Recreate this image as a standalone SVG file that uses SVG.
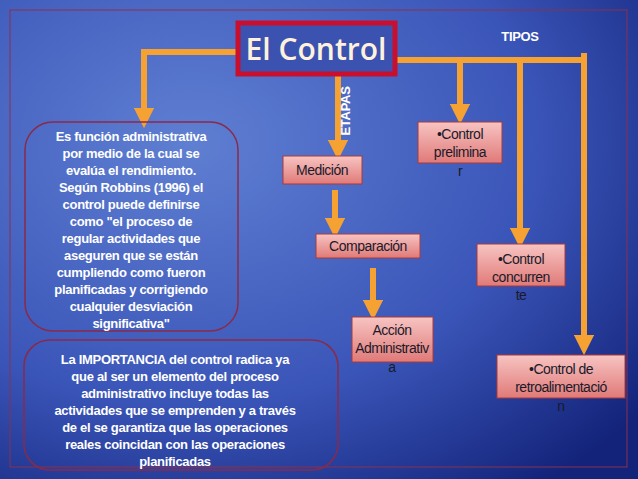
<svg xmlns="http://www.w3.org/2000/svg" width="638" height="479" viewBox="0 0 638 479">
<defs>
<radialGradient id="bg" cx="0.3" cy="0.3" r="0.9">
<stop offset="0" stop-color="#5f7fd2"/><stop offset="0.6" stop-color="#3a55b8"/><stop offset="1" stop-color="#13237a"/>
</radialGradient>
<linearGradient id="box" x1="0" y1="0" x2="0" y2="1"><stop offset="0" stop-color="#f7c4c2"/><stop offset="1" stop-color="#e07a78"/></linearGradient>
<marker id="ah" viewBox="0 0 10 10" refX="5" refY="5" markerWidth="3.4" markerHeight="3.4" orient="auto"><path d="M0,0 L10,5 L0,10 Z" fill="#f5a233"/></marker>
</defs>
<style>
.c{stroke:#f5a233;stroke-width:6;fill:none}
.a{marker-end:url(#ah)}
.b{fill:url(#box);stroke:#a83a3a;stroke-width:1}
.t{font-family:"Liberation Sans",Arial,sans-serif;font-size:14px;letter-spacing:-0.5px;fill:#1a1a2a;text-anchor:middle}
.w{font-family:"Liberation Sans",Arial,sans-serif;font-size:13px;font-weight:bold;letter-spacing:-0.3px;fill:#fff;text-anchor:middle}
.r{fill:none;stroke:#8a2a4a;stroke-width:1.5}
</style>
<rect width="638" height="479" fill="url(#bg)"/>
<rect x="10" y="10" width="617" height="457" fill="none" stroke="#8a3050" stroke-width="1"/>
<g id="connectors">
<path class="c a" d="M237,52 H144 V118"/>
<path class="c a" d="M338,76 V150"/>
<path class="c" d="M396,60 H585"/>
<path class="c a" d="M460,60 V114"/>
<path class="c a" d="M520,60 V238"/>
<path class="c a" d="M584,53 V345"/>
<path class="c a" d="M335,190 V228"/>
<path class="c a" d="M373,268 V310"/>
<text x="520" y="41" class="w" font-size="14">TIPOS</text>
<text class="w" transform="translate(350,111) rotate(-90)" font-size="14">ETAPAS</text>
</g>
<g id="title"><rect x="238" y="23" width="157" height="51" fill="#3b52b0" stroke="#c8102e" stroke-width="5"/>
<text x="316" y="60" font-family="Open Sans,sans-serif" font-size="30" font-weight="600" fill="#fff2dc" text-anchor="middle">El Control</text></g>
<g id="medicion"><rect class="b" x="283" y="156" width="79" height="28"/><text class="t" x="322" y="175">Medición</text></g>
<g id="comparacion"><rect class="b" x="316" y="234" width="104" height="24"/><text class="t" x="368" y="251">Comparación</text></g>
<g id="accion"><rect class="b" x="352" y="317" width="81" height="45"/><text class="t" x="392" y="335">Acción</text><text class="t" x="392" y="353">Administrativ</text><text class="t" x="392" y="372">a</text></g>
<g id="preliminar"><rect class="b" x="418" y="122" width="84" height="41"/><text class="t" x="460" y="139">•Control</text><text class="t" x="460" y="157">prelimina</text><text class="t" x="460" y="176">r</text></g>
<g id="concurrente"><rect class="b" x="477" y="244" width="88" height="42"/><text class="t" x="521" y="264">•Control</text><text class="t" x="521" y="282">concurren</text><text class="t" x="521" y="300">te</text></g>
<g id="retro"><rect class="b" x="497" y="355" width="128" height="43"/><text class="t" x="561" y="374">•Control de</text><text class="t" x="561" y="392">retroalimentació</text><text class="t" x="561" y="411">n</text></g>
<g id="definicion"><rect class="r" x="25" y="122" width="213" height="209" rx="28"/>
<text class="w" y="141"><tspan x="131">Es función administrativa</tspan><tspan x="131" dy="17">por medio de la cual se</tspan><tspan x="131" dy="17">evalúa el rendimiento.</tspan><tspan x="131" dy="17">Según Robbins (1996) el</tspan><tspan x="131" dy="17">control puede definirse</tspan><tspan x="131" dy="17">como "el proceso de</tspan><tspan x="131" dy="17">regular actividades que</tspan><tspan x="131" dy="17">aseguren que se están</tspan><tspan x="131" dy="17">cumpliendo como fueron</tspan><tspan x="131" dy="17">planificadas y corrigiendo</tspan><tspan x="131" dy="17">cualquier desviación</tspan><tspan x="131" dy="17">significativa"</tspan></text></g>
<g id="importancia"><rect class="r" x="24" y="340" width="314" height="130" rx="26"/>
<text class="w" y="364"><tspan x="175">La IMPORTANCIA del control radica ya</tspan><tspan x="175" dy="17">que al ser un elemento del proceso</tspan><tspan x="175" dy="17">administrativo incluye todas las</tspan><tspan x="175" dy="17">actividades que se emprenden y a través</tspan><tspan x="175" dy="17">de el se  garantiza que las operaciones</tspan><tspan x="175" dy="17">reales coincidan con las operaciones</tspan><tspan x="175" dy="17">planificadas</tspan></text></g>
</svg>
